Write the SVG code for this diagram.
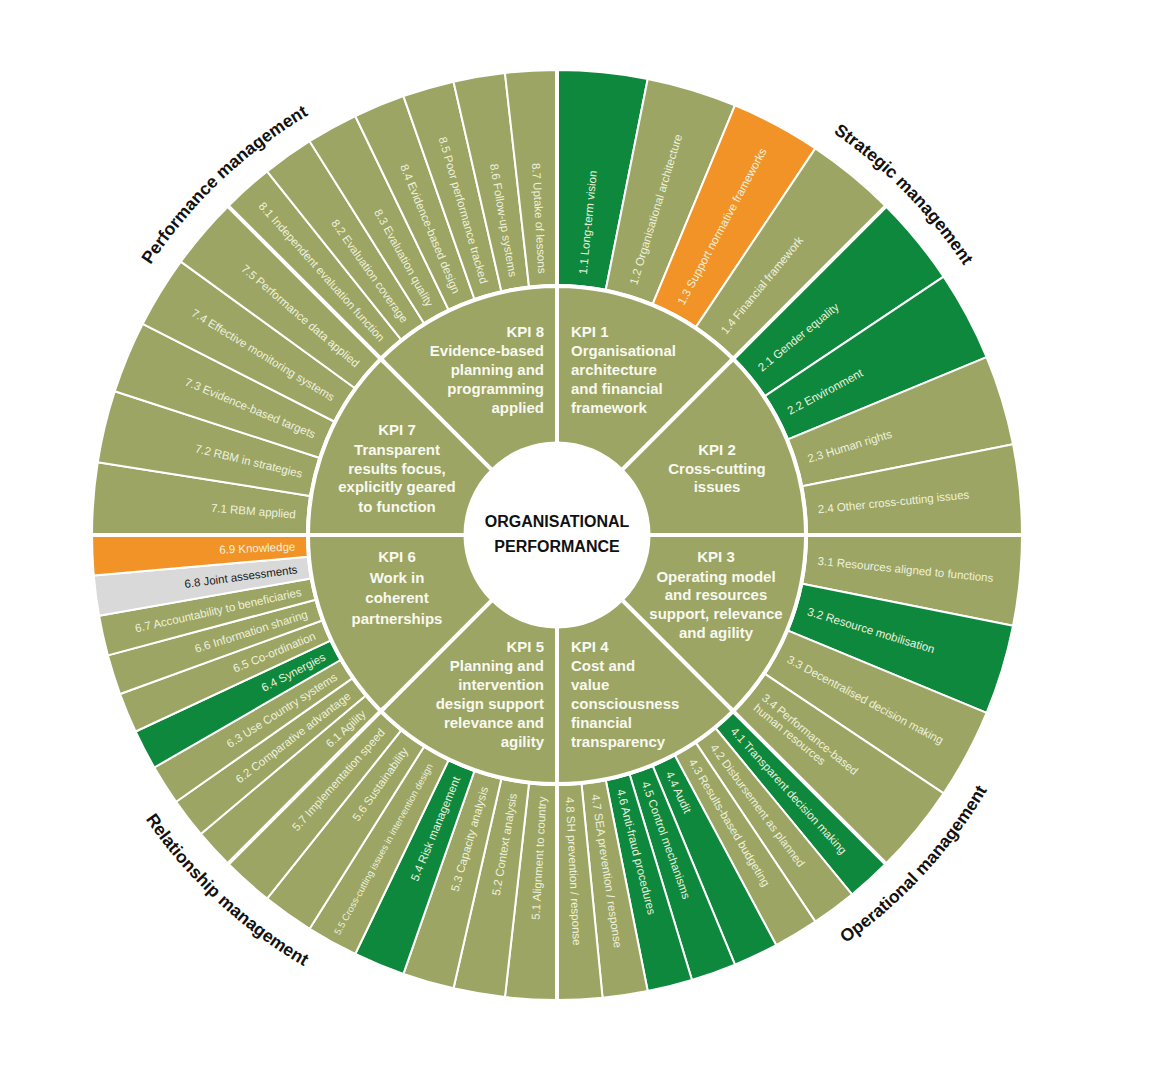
<svg xmlns="http://www.w3.org/2000/svg" width="1152" height="1069" viewBox="0 0 1152 1069">
<style>
.seg{stroke:#fff;stroke-width:2;stroke-linejoin:round}
.kseg{stroke:#fff;stroke-width:4;stroke-linejoin:round}
.ol{fill:#9CA563}
.dg{fill:#0D883D}
.or{fill:#F29327}
.gr{fill:#D9D9D9}
.lt{font-family:"Liberation Sans",Arial,sans-serif;font-size:11.5px;fill:#EEF1DF}
.sm{font-size:9.5px}
.dk{fill:#1A1A1A}
.kpi{font-family:"Liberation Sans",Arial,sans-serif;font-size:15px;font-weight:bold;fill:#F8F9F0}
.ctr{font-family:"Liberation Sans",Arial,sans-serif;font-size:16px;font-weight:bold;fill:#111;text-anchor:middle}
.cat{font-family:"Liberation Sans",Arial,sans-serif;font-size:17.5px;font-weight:bold;fill:#111}
.div{stroke:#fff;stroke-width:4}
</style>
<defs>
<path id="s11" d="M0,-250 L0,-465 A465,465 0 0 1 90.72,-456.07 L48.77,-245.20 A250,250 0 0 0 0,-250 Z"/>
<path id="s56" d="M0,-250 L0,-465 A465,465 0 0 1 45.58,-462.76 L24.50,-248.80 A250,250 0 0 0 0,-250 Z"/>
<path id="s64" d="M0,-250 L0,-465 A465,465 0 0 1 52.06,-462.08 L27.99,-248.43 A250,250 0 0 0 0,-250 Z"/>
<path id="s5" d="M0,-250 L0,-465 A465,465 0 0 1 40.53,-463.23 L21.79,-249.05 A250,250 0 0 0 0,-250 Z"/>
<path id="s9" d="M0,-250 L0,-465 A465,465 0 0 1 72.74,-459.27 L39.11,-246.92 A250,250 0 0 0 0,-250 Z"/>
<path id="k45" d="M0,0 L0,-249 A249,249 0 0 1 176.07,-176.07 Z"/>
<path id="arcStr" d="M603.77,49.24 A488,488 0 0 1 1043.50,496.71" fill="none"/>
<path id="arcPerf" d="M72.14,479.76 A488,488 0 0 1 527.21,47.91" fill="none"/>
<path id="arcOp" d="M620.53,1030.95 A500,500 0 0 0 1056.44,558.55" fill="none"/>
<path id="arcRel" d="M60.83,596.80 A500,500 0 0 0 531.70,1034.36" fill="none"/>
</defs>
<rect width="1152" height="1069" fill="#fff"/>

<g id="segments" transform="translate(557,535)">
<g id="seg-1-1"><use href="#s11" class="seg dg" transform="rotate(0)"/><text class="lt" transform="rotate(-84.375)" x="262" dy="0.35em">1.1 Long-term vision</text></g>
<g id="seg-1-2"><use href="#s11" class="seg ol" transform="rotate(11.25)"/><text class="lt" transform="rotate(-73.125)" x="262" dy="0.35em">1.2 Organisational architecture</text></g>
<g id="seg-1-3"><use href="#s11" class="seg or" transform="rotate(22.5)"/><text class="lt" transform="rotate(-61.875)" x="262" dy="0.35em">1.3 Support normative frameworks</text></g>
<g id="seg-1-4"><use href="#s11" class="seg ol" transform="rotate(33.75)"/><text class="lt" transform="rotate(-50.625)" x="262" dy="0.35em">1.4 Financial framework</text></g>
<g id="seg-2-1"><use href="#s11" class="seg dg" transform="rotate(45)"/><text class="lt" transform="rotate(-39.375)" x="262" dy="0.35em">2.1 Gender equality</text></g>
<g id="seg-2-2"><use href="#s11" class="seg dg" transform="rotate(56.25)"/><text class="lt" transform="rotate(-28.125)" x="262" dy="0.35em">2.2 Environment</text></g>
<g id="seg-2-3"><use href="#s11" class="seg ol" transform="rotate(67.5)"/><text class="lt" transform="rotate(-16.875)" x="262" dy="0.35em">2.3 Human rights</text></g>
<g id="seg-2-4"><use href="#s11" class="seg ol" transform="rotate(78.75)"/><text class="lt" transform="rotate(-5.625)" x="262" dy="0.35em">2.4 Other cross-cutting issues</text></g>
<g id="seg-3-1"><use href="#s11" class="seg ol" transform="rotate(90)"/><text class="lt" transform="rotate(5.625)" x="262" dy="0.35em">3.1 Resources aligned to functions</text></g>
<g id="seg-3-2"><use href="#s11" class="seg dg" transform="rotate(101.25)"/><text class="lt" transform="rotate(16.875)" x="262" dy="0.35em">3.2 Resource mobilisation</text></g>
<g id="seg-3-3"><use href="#s11" class="seg ol" transform="rotate(112.5)"/><text class="lt" transform="rotate(28.125)" x="262" dy="0.35em">3.3 Decentralised decision making</text></g>
<g id="seg-3-4"><use href="#s11" class="seg ol" transform="rotate(123.75)"/><text class="lt" transform="rotate(39.375)"><tspan x="262" y="-6.5" dy="0.35em">3.4 Performance-based</tspan><tspan x="262" y="6.5" dy="0.35em">human resources</tspan></text></g>
<g id="seg-4-1"><use href="#s56" class="seg dg" transform="rotate(135)"/><text class="lt" transform="rotate(47.8125)" x="262" dy="0.35em">4.1 Transparent decision making</text></g>
<g id="seg-4-2"><use href="#s56" class="seg ol" transform="rotate(140.625)"/><text class="lt" transform="rotate(53.4375)" x="262" dy="0.35em">4.2 Disbursement as planned</text></g>
<g id="seg-4-3"><use href="#s56" class="seg ol" transform="rotate(146.25)"/><text class="lt" transform="rotate(59.0625)" x="262" dy="0.35em">4.3 Results-based budgeting</text></g>
<g id="seg-4-4"><use href="#s56" class="seg dg" transform="rotate(151.875)"/><text class="lt" transform="rotate(64.6875)" x="262" dy="0.35em">4.4 Audit</text></g>
<g id="seg-4-5"><use href="#s56" class="seg dg" transform="rotate(157.5)"/><text class="lt" transform="rotate(70.3125)" x="262" dy="0.35em">4.5 Control mechanisms</text></g>
<g id="seg-4-6"><use href="#s56" class="seg dg" transform="rotate(163.125)"/><text class="lt" transform="rotate(75.9375)" x="262" dy="0.35em">4.6 Anti-fraud procedures</text></g>
<g id="seg-4-7"><use href="#s56" class="seg ol" transform="rotate(168.75)"/><text class="lt" transform="rotate(81.5625)" x="262" dy="0.35em">4.7 SEA prevention / response</text></g>
<g id="seg-4-8"><use href="#s56" class="seg ol" transform="rotate(174.375)"/><text class="lt" transform="rotate(87.1875)" x="262" dy="0.35em">4.8 SH prevention / response</text></g>
<g id="seg-5-1"><use href="#s64" class="seg ol" transform="rotate(180)"/><text class="lt" transform="rotate(273.2143)" x="-262" dy="0.35em" text-anchor="end">5.1 Alignment to country</text></g>
<g id="seg-5-2"><use href="#s64" class="seg ol" transform="rotate(186.4286)"/><text class="lt" transform="rotate(279.6429)" x="-262" dy="0.35em" text-anchor="end">5.2 Context analysis</text></g>
<g id="seg-5-3"><use href="#s64" class="seg ol" transform="rotate(192.8571)"/><text class="lt" transform="rotate(286.0714)" x="-262" dy="0.35em" text-anchor="end">5.3 Capacity analysis</text></g>
<g id="seg-5-4"><use href="#s64" class="seg dg" transform="rotate(199.2857)"/><text class="lt" transform="rotate(292.5)" x="-262" dy="0.35em" text-anchor="end">5.4 Risk management</text></g>
<g id="seg-5-5"><use href="#s64" class="seg ol" transform="rotate(205.7143)"/><text class="lt sm" transform="rotate(298.9286)" x="-262" dy="0.35em" text-anchor="end">5.5 Cross-cutting issues in intervention design</text></g>
<g id="seg-5-6"><use href="#s64" class="seg ol" transform="rotate(212.1429)"/><text class="lt" transform="rotate(305.3571)" x="-262" dy="0.35em" text-anchor="end">5.6 Sustainability</text></g>
<g id="seg-5-7"><use href="#s64" class="seg ol" transform="rotate(218.5714)"/><text class="lt" transform="rotate(311.7857)" x="-262" dy="0.35em" text-anchor="end">5.7 Implementation speed</text></g>
<g id="seg-6-1"><use href="#s5" class="seg ol" transform="rotate(225)"/><text class="lt" transform="rotate(317.5)" x="-262" dy="0.35em" text-anchor="end">6.1 Agility</text></g>
<g id="seg-6-2"><use href="#s5" class="seg ol" transform="rotate(230)"/><text class="lt" transform="rotate(322.5)" x="-262" dy="0.35em" text-anchor="end">6.2 Comparative advantage</text></g>
<g id="seg-6-3"><use href="#s5" class="seg ol" transform="rotate(235)"/><text class="lt" transform="rotate(327.5)" x="-262" dy="0.35em" text-anchor="end">6.3 Use Country systems</text></g>
<g id="seg-6-4"><use href="#s5" class="seg dg" transform="rotate(240)"/><text class="lt" transform="rotate(332.5)" x="-262" dy="0.35em" text-anchor="end">6.4 Synergies</text></g>
<g id="seg-6-5"><use href="#s5" class="seg ol" transform="rotate(245)"/><text class="lt" transform="rotate(337.5)" x="-262" dy="0.35em" text-anchor="end">6.5 Co-ordination</text></g>
<g id="seg-6-6"><use href="#s5" class="seg ol" transform="rotate(250)"/><text class="lt" transform="rotate(342.5)" x="-262" dy="0.35em" text-anchor="end">6.6 Information sharing</text></g>
<g id="seg-6-7"><use href="#s5" class="seg ol" transform="rotate(255)"/><text class="lt" transform="rotate(347.5)" x="-262" dy="0.35em" text-anchor="end">6.7 Accountability to beneficiaries</text></g>
<g id="seg-6-8"><use href="#s5" class="seg gr" transform="rotate(260)"/><text class="lt dk" transform="rotate(352.5)" x="-262" dy="0.35em" text-anchor="end">6.8 Joint assessments</text></g>
<g id="seg-6-9"><use href="#s5" class="seg or" transform="rotate(265)"/><text class="lt" transform="rotate(357.5)" x="-262" dy="0.35em" text-anchor="end">6.9 Knowledge</text></g>
<g id="seg-7-1"><use href="#s9" class="seg ol" transform="rotate(270)"/><text class="lt" transform="rotate(4.5)" x="-262" dy="0.35em" text-anchor="end">7.1 RBM applied</text></g>
<g id="seg-7-2"><use href="#s9" class="seg ol" transform="rotate(279)"/><text class="lt" transform="rotate(13.5)" x="-262" dy="0.35em" text-anchor="end">7.2 RBM in strategies</text></g>
<g id="seg-7-3"><use href="#s9" class="seg ol" transform="rotate(288)"/><text class="lt" transform="rotate(22.5)" x="-262" dy="0.35em" text-anchor="end">7.3 Evidence-based targets</text></g>
<g id="seg-7-4"><use href="#s9" class="seg ol" transform="rotate(297)"/><text class="lt" transform="rotate(31.5)" x="-262" dy="0.35em" text-anchor="end">7.4 Effective monitoring systems</text></g>
<g id="seg-7-5"><use href="#s9" class="seg ol" transform="rotate(306)"/><text class="lt" transform="rotate(40.5)" x="-262" dy="0.35em" text-anchor="end">7.5 Performance data applied</text></g>
<g id="seg-8-1"><use href="#s64" class="seg ol" transform="rotate(315)"/><text class="lt" transform="rotate(48.2143)" x="-262" dy="0.35em" text-anchor="end">8.1 Independent evaluation function</text></g>
<g id="seg-8-2"><use href="#s64" class="seg ol" transform="rotate(321.4286)"/><text class="lt" transform="rotate(54.6429)" x="-262" dy="0.35em" text-anchor="end">8.2 Evaluation coverage</text></g>
<g id="seg-8-3"><use href="#s64" class="seg ol" transform="rotate(327.8571)"/><text class="lt" transform="rotate(61.0714)" x="-262" dy="0.35em" text-anchor="end">8.3 Evaluation quality</text></g>
<g id="seg-8-4"><use href="#s64" class="seg ol" transform="rotate(334.2857)"/><text class="lt" transform="rotate(67.5)" x="-262" dy="0.35em" text-anchor="end">8.4 Evidence-based design</text></g>
<g id="seg-8-5"><use href="#s64" class="seg ol" transform="rotate(340.7143)"/><text class="lt" transform="rotate(73.9286)" x="-262" dy="0.35em" text-anchor="end">8.5 Poor performance tracked</text></g>
<g id="seg-8-6"><use href="#s64" class="seg ol" transform="rotate(347.1429)"/><text class="lt" transform="rotate(80.3571)" x="-262" dy="0.35em" text-anchor="end">8.6 Follow-up systems</text></g>
<g id="seg-8-7"><use href="#s64" class="seg ol" transform="rotate(353.5714)"/><text class="lt" transform="rotate(86.7857)" x="-262" dy="0.35em" text-anchor="end">8.7 Uptake of lessons</text></g>
</g>

<g id="kpi-1"><use href="#k45" class="kseg ol" transform="translate(557,535) rotate(0)"/><text class="kpi"><tspan x="571" y="337">KPI 1</tspan><tspan x="571" y="356">Organisational</tspan><tspan x="571" y="375">architecture</tspan><tspan x="571" y="394">and financial</tspan><tspan x="571" y="413">framework</tspan></text></g>
<g id="kpi-2"><use href="#k45" class="kseg ol" transform="translate(557,535) rotate(45)"/><text class="kpi" text-anchor="middle"><tspan x="717" y="455">KPI 2</tspan><tspan x="717" y="474">Cross-cutting</tspan><tspan x="717" y="492">issues</tspan></text></g>
<g id="kpi-3"><use href="#k45" class="kseg ol" transform="translate(557,535) rotate(90)"/><text class="kpi" text-anchor="middle"><tspan x="716" y="562">KPI 3</tspan><tspan x="716" y="582">Operating model</tspan><tspan x="716" y="600">and resources</tspan><tspan x="716" y="619">support, relevance</tspan><tspan x="716" y="638">and agility</tspan></text></g>
<g id="kpi-4"><use href="#k45" class="kseg ol" transform="translate(557,535) rotate(135)"/><text class="kpi"><tspan x="571" y="652">KPI 4</tspan><tspan x="571" y="671">Cost and</tspan><tspan x="571" y="690">value</tspan><tspan x="571" y="709">consciousness</tspan><tspan x="571" y="728">financial</tspan><tspan x="571" y="747">transparency</tspan></text></g>
<g id="kpi-5"><use href="#k45" class="kseg ol" transform="translate(557,535) rotate(180)"/><text class="kpi" text-anchor="end"><tspan x="544" y="652">KPI 5</tspan><tspan x="544" y="671">Planning and</tspan><tspan x="544" y="690">intervention</tspan><tspan x="544" y="709">design support</tspan><tspan x="544" y="728">relevance and</tspan><tspan x="544" y="747">agility</tspan></text></g>
<g id="kpi-6"><use href="#k45" class="kseg ol" transform="translate(557,535) rotate(225)"/><text class="kpi" text-anchor="middle"><tspan x="397" y="562">KPI 6</tspan><tspan x="397" y="583">Work in</tspan><tspan x="397" y="603">coherent</tspan><tspan x="397" y="624">partnerships</tspan></text></g>
<g id="kpi-7"><use href="#k45" class="kseg ol" transform="translate(557,535) rotate(270)"/><text class="kpi" text-anchor="middle"><tspan x="397" y="435">KPI 7</tspan><tspan x="397" y="455">Transparent</tspan><tspan x="397" y="474">results focus,</tspan><tspan x="397" y="492">explicitly geared</tspan><tspan x="397" y="512">to function</tspan></text></g>
<g id="kpi-8"><use href="#k45" class="kseg ol" transform="translate(557,535) rotate(315)"/><text class="kpi" text-anchor="end"><tspan x="544" y="337">KPI 8</tspan><tspan x="544" y="356">Evidence-based</tspan><tspan x="544" y="375">planning and</tspan><tspan x="544" y="394">programming</tspan><tspan x="544" y="413">applied</tspan></text></g>

<g id="connectors" class="div" transform="translate(557,535)">
<line x1="0" y1="-244" x2="0" y2="-468" transform="rotate(0)"/>
<line x1="0" y1="-244" x2="0" y2="-468" transform="rotate(45)"/>
<line x1="0" y1="-244" x2="0" y2="-468" transform="rotate(90)"/>
<line x1="0" y1="-244" x2="0" y2="-468" transform="rotate(135)"/>
<line x1="0" y1="-244" x2="0" y2="-468" transform="rotate(180)"/>
<line x1="0" y1="-244" x2="0" y2="-468" transform="rotate(225)"/>
<line x1="0" y1="-244" x2="0" y2="-468" transform="rotate(270)"/>
<line x1="0" y1="-244" x2="0" y2="-468" transform="rotate(315)"/>
</g>

<g id="center">
<circle cx="557" cy="535" r="93.5" fill="#fff"/>
<text class="ctr" x="557" y="527">ORGANISATIONAL</text>
<text class="ctr" x="557" y="552">PERFORMANCE</text>
</g>

<g id="label-strategic"><text class="cat"><textPath href="#arcStr" startOffset="50%" text-anchor="middle">Strategic management</textPath></text></g>
<g id="label-performance"><text class="cat"><textPath href="#arcPerf" startOffset="50%" text-anchor="middle">Performance management</textPath></text></g>
<g id="label-operational"><text class="cat"><textPath href="#arcOp" startOffset="50%" text-anchor="middle">Operational management</textPath></text></g>
<g id="label-relationship"><text class="cat"><textPath href="#arcRel" startOffset="50%" text-anchor="middle">Relationship management</textPath></text></g>
</svg>
